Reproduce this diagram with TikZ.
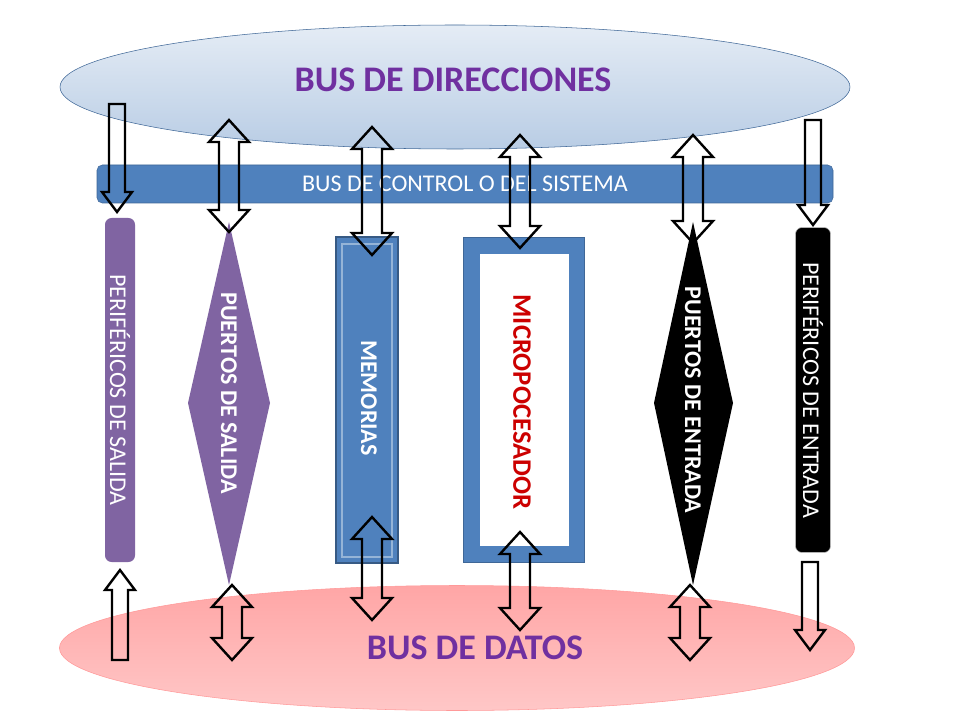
\documentclass[tikz,border=0pt]{standalone}
\usepackage{fontspec}
\setmainfont{Carlito}
\usetikzlibrary{shapes.geometric}
\definecolor{cblue}{HTML}{4F81BD}
\definecolor{cpurp}{HTML}{8064A2}
\definecolor{ctitle}{HTML}{7030A0}
\tikzset{
  blockarrow/.style={draw=black,line width=1.8pt,line join=miter},
  lbl/.style={text=white,font=\fontsize{18}{18}\selectfont,rotate=-90},
  blbl/.style={text=white,font=\bfseries\fontsize{18}{18}\selectfont,rotate=-90}
}
\newcommand{\dblarr}[4]{% name x y1 y2
  \draw[blockarrow] (#2-10,#3+22) -- (#2-20,#3+22) -- (#2,#3) -- (#2+20,#3+22) -- (#2+10,#3+22)
   -- (#2+10,#4-22) -- (#2+20,#4-22) -- (#2,#4) -- (#2-20,#4-22) -- (#2-10,#4-22) -- cycle;
  \coordinate (#1) at (#2,#3);}
\newcommand{\downarr}[4]{% name x ytop ytip
  \draw[blockarrow] (#2-8,#3) -- (#2+8,#3) -- (#2+8,#4-20) -- (#2+15,#4-20) -- (#2,#4) -- (#2-15,#4-20) -- (#2-8,#4-20) -- cycle;
  \coordinate (#1) at (#2,#3);}
\newcommand{\uparr}[4]{% name x ytip ybottom
  \draw[blockarrow] (#2-8,#4) -- (#2+8,#4) -- (#2+8,#3+20) -- (#2+15,#3+20) -- (#2,#3) -- (#2-15,#3+20) -- (#2-8,#3+20) -- cycle;
  \coordinate (#1) at (#2,#3);}
\begin{document}
\begin{tikzpicture}[x=0.75pt,y=-0.75pt]
\useasboundingbox (0,0) rectangle (960,720);
\fill[white] (0,0) rectangle (960,720);
% top ellipse
\node[ellipse,minimum width=790*0.75pt,minimum height=124*0.75pt,draw=cblue!80!black,
  top color=cblue!15!white,bottom color=cblue!40!white] (dir) at (455,87) {};
\node[text=ctitle,font=\bfseries\fontsize{27}{27}\selectfont] (dirt) at (453,80) {BUS DE DIRECCIONES};
% bottom ellipse
\node[ellipse,minimum width=795*0.75pt,minimum height=125*0.75pt,draw=red!40,
  top color=red!35!white,bottom color=red!22!white] (dat) at (457,648) {};
\node[text=ctitle,font=\bfseries\fontsize{27}{27}\selectfont] (datt) at (475,648) {BUS DE DATOS};
% control bar
\node[draw=cblue!80!black,fill=cblue,rounded corners=4pt,minimum width=736*0.75pt,minimum height=38*0.75pt,
  text=white,font=\fontsize{18}{18}\selectfont] (ctl) at (465,184) {BUS DE CONTROL O DEL SISTEMA};
% perifericos de salida
\node[fill=cpurp,rounded corners=5pt,minimum width=30*0.75pt,minimum height=344*0.75pt] (ps) at (120,390) {};
\node[lbl] (pst) at (120,390) {PERIFÉRICOS DE SALIDA};
% puertos de salida
\fill[cpurp] (188,403) -- (229,222) -- (270,403) -- (229,585) -- cycle;
\coordinate (pts) at (229,403);
\node[blbl] (ptst) at (229,393) {PUERTOS DE SALIDA};
% memorias
\node[fill=cblue,draw=cblue!70!black,line width=1.5pt,minimum width=62*0.75pt,minimum height=325*0.75pt] (mem) at (367,400) {};
\draw[cblue!60!white,line width=1pt] (342,244) rectangle (392,557);
\node[blbl] (memt) at (369,398) {MEMORIAS};
% microprocesador
\node[fill=cblue,draw=cblue!80!black,minimum width=121*0.75pt,minimum height=325*0.75pt] (mp) at (524,400) {};
\node[fill=white,minimum width=89*0.75pt,minimum height=291*0.75pt] (mpi) at (524,400) {};
\node[text=red!80!black,font=\bfseries\fontsize{20}{20}\selectfont,rotate=-90] (mpt) at (522,402) {MICROPOCESADOR};
% puertos de entrada
\fill[black] (654,403) -- (693,222) -- (733,403) -- (693,585) -- cycle;
\coordinate (pte) at (693,403);
\node[blbl] (ptet) at (693,400) {PUERTOS DE ENTRADA};
% perifericos de entrada
\node[fill=black,draw=gray!60,rounded corners=5pt,minimum width=35*0.75pt,minimum height=325*0.75pt] (pe) at (813,390) {};
\node[lbl] (pet) at (813,390) {PERIFÉRICOS DE ENTRADA};
% arrows top
\downarr{a1}{117}{104}{212}
\dblarr{a2}{229}{120}{232}
\dblarr{a3}{372}{127}{255}
\dblarr{a4}{520}{135}{248}
\dblarr{a5}{693}{135}{243}
\downarr{a6}{813}{120}{225}
% arrows bottom
\uparr{b1}{120}{570}{660}
\dblarr{b2}{232}{585}{660}
\dblarr{b3}{372}{517}{620}
\dblarr{b4}{520}{532}{630}
\dblarr{b5}{690}{585}{660}
\downarr{b6}{810}{562}{650}
\end{tikzpicture}
\end{document}
